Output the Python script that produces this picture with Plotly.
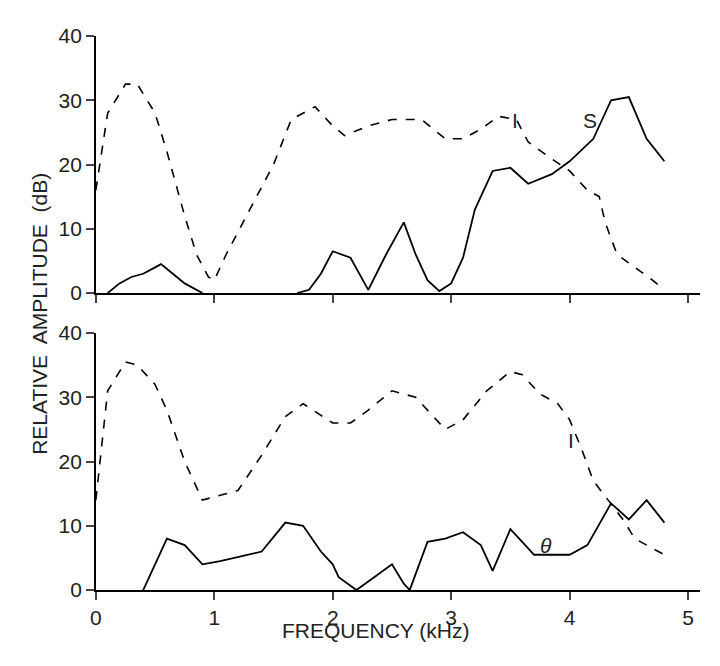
import plotly.graph_objects as go

top_i_x = [0,0.1,0.25,0.35,0.5,0.6,0.75,0.85,0.95,1.0,1.1,1.3,1.5,1.65,1.85,2.0,2.1,2.3,2.5,2.75,2.95,3.1,3.25,3.4,3.55,3.65,3.8,4.0,4.15,4.25,4.3,4.4,4.55,4.7,4.8]
top_i_y = [16,28,32.5,32.5,28,22,12,6,2.5,2,6,13,20,27,29,26,24.5,26,27,27,24,24,25.5,27.5,27,23.5,21.5,19,16,15,11,6,4,2,0.5]
top_s1_x = [0.1,0.2,0.3,0.4,0.5,0.55,0.65,0.75,0.9]
top_s1_y = [0,1.5,2.5,3,4,4.5,3,1.5,0]
top_s2_x = [1.7,1.8,1.9,2.0,2.15,2.3,2.45,2.6,2.7,2.8,2.9,3.0,3.1,3.2,3.35,3.5,3.65,3.85,4.0,4.2,4.35,4.5,4.65,4.8]
top_s2_y = [0,0.5,3,6.5,5.5,0.5,6,11,6,2,0.3,1.5,5.5,13,19,19.5,17,18.5,20.5,24,30,30.5,24,20.5]
bot_i_x = [0,0.05,0.1,0.25,0.35,0.5,0.6,0.75,0.9,1.2,1.4,1.6,1.75,2.0,2.15,2.3,2.5,2.7,2.95,3.1,3.3,3.5,3.6,3.75,3.9,4.0,4.1,4.2,4.35,4.45,4.55,4.8]
bot_i_y = [14,22,31,35.5,35,32,28,20,14,15.5,21,27,29,26,26,28,31,30,25,26.5,31,34,33.5,30.5,29,26.5,22,17,13.5,11,8,5.5]
bot_t_x = [0.4,0.5,0.6,0.75,0.9,1.05,1.4,1.6,1.75,1.9,2.0,2.05,2.2,2.35,2.5,2.6,2.65,2.8,2.95,3.1,3.25,3.35,3.5,3.6,3.7,3.85,4.0,4.15,4.35,4.5,4.65,4.8]
bot_t_y = [0,4,8,7,4,4.5,6,10.5,10,6,4,2,0,2,4,1,0,7.5,8,9,7,3,9.5,7.5,5.5,5.5,5.5,7,13.5,11,14,10.5]
x_ticks = [0,1,2,3,4,5]
y_ticks = [0,10,20,30,40]

fig = go.Figure()
ln = dict(color="black", width=1.8)
dl = dict(color="black", width=1.6, dash="dash")
fig.add_trace(go.Scatter(x=top_i_x, y=top_i_y, mode="lines", line=dl, xaxis="x", yaxis="y"))
fig.add_trace(go.Scatter(x=top_s1_x, y=top_s1_y, mode="lines", line=ln, xaxis="x", yaxis="y"))
fig.add_trace(go.Scatter(x=top_s2_x, y=top_s2_y, mode="lines", line=ln, xaxis="x", yaxis="y"))
fig.add_trace(go.Scatter(x=bot_i_x, y=bot_i_y, mode="lines", line=dl, xaxis="x2", yaxis="y2"))
fig.add_trace(go.Scatter(x=bot_t_x, y=bot_t_y, mode="lines", line=ln, xaxis="x2", yaxis="y2"))

ax = dict(range=[0,5.1], tickvals=x_ticks, ticks="outside", ticklen=8, tickwidth=1.5, showline=True, linecolor="black", linewidth=1.6, showgrid=False, zeroline=False, domain=[0.122,0.961], automargin=False, tickfont=dict(size=21, color="#222"))
ay = dict(range=[0,40], tickvals=y_ticks, ticks="outside", ticklen=8, tickwidth=1.5, showline=True, linecolor="black", linewidth=1.6, showgrid=False, zeroline=False, automargin=False, tickfont=dict(size=21, color="#222"))
fig.update_layout(
    width=720, height=666, showlegend=False, plot_bgcolor="white", paper_bgcolor="white",
    margin=dict(l=0, r=0, t=0, b=0, autoexpand=False), font=dict(family="Liberation Sans, Arial", color="#222"),
    xaxis=dict(ax, anchor="y", showticklabels=False),
    yaxis=dict(ay, domain=[0.572,0.958], anchor="x"),
    xaxis2=dict(ax, anchor="y2"),
    yaxis2=dict(ay, domain=[0.126,0.512], anchor="x2"),
    annotations=[
        dict(x=3.54, y=26.9, xref="x", yref="y", text="I", showarrow=False, font=dict(size=21)),
        dict(x=4.17, y=26.9, xref="x", yref="y", text="S", showarrow=False, font=dict(size=21)),
        dict(x=4.01, y=23.3, xref="x2", yref="y2", text="I", showarrow=False, font=dict(size=21)),
        dict(x=3.8, y=7, xref="x2", yref="y2", text="<i>θ</i>", showarrow=False, font=dict(size=21)),
        dict(x=0.025, y=0.54, xref="paper", yref="paper", text="RELATIVE  AMPLITUDE  (dB)", textangle=-90, showarrow=False, font=dict(size=21)),
        dict(x=0.51, y=0.045, xref="paper", yref="paper", text="FREQUENCY (kHz)", showarrow=False, font=dict(size=21)),
    ],
)
fig.write_html("out.html")
